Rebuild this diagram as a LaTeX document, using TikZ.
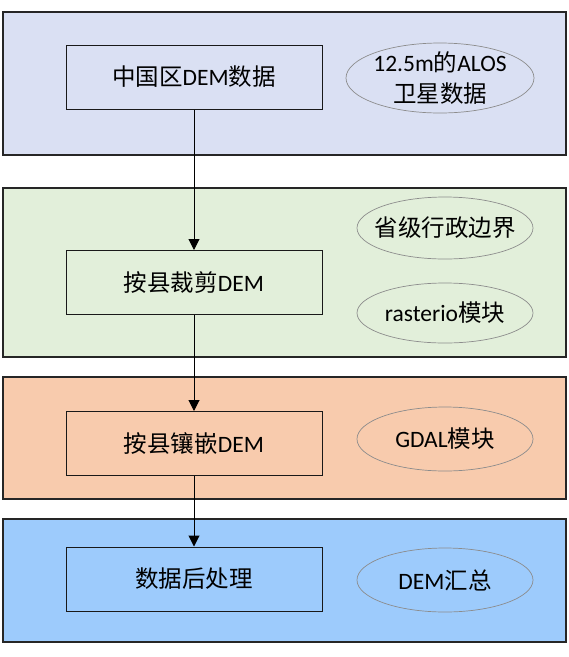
\documentclass[tikz,border=0pt]{standalone}
\usepackage{fontspec}
\setmainfont{Carlito}
\newfontfamily\cjk{Noto Sans CJK SC}
\newcommand{\zh}[1]{{\cjk #1}}
\usetikzlibrary{arrows.meta,shapes.geometric}
\definecolor{bandA}{HTML}{DAE0F3}
\definecolor{bandB}{HTML}{E2EFDA}
\definecolor{bandC}{HTML}{F8CBAD}
\definecolor{bandD}{HTML}{9DCBFC}
\definecolor{ellline}{HTML}{8C8C8C}
\begin{document}
\begin{tikzpicture}[x=1pt,y=-1pt,
  band/.style={draw=black!85,line width=1.3pt},
  procbox/.style={draw=black!90,line width=1pt,minimum width=256pt,minimum height=64pt,inner sep=0pt,font=\fontsize{23.5}{26}\selectfont},
  ell/.style={draw=ellline,line width=0.7pt,ellipse,minimum width=176pt,inner sep=0pt},
  elltext/.style={font=\fontsize{23.5}{31}\selectfont,align=center,inner sep=0pt},
  flow/.style={draw=black,line width=1pt,-{Triangle[length=11pt,width=11pt]}}]
\useasboundingbox (0,0) rectangle (569,657);
\fill[bandA] (3,12) rectangle (566,155);
\draw[band] (3,12) rectangle (566,155);
\fill[bandB] (3,188) rectangle (566,357);
\draw[band] (3,188) rectangle (566,357);
\fill[bandC] (3,377) rectangle (566,499);
\draw[band] (3,377) rectangle (566,499);
\fill[bandD] (3,519) rectangle (566,642);
\draw[band] (3,519) rectangle (566,642);

\node[procbox] (b1) at (194,77) {\zh{中国区}DEM\zh{数据}};
\node[procbox] (b2) at (194,282.5) {\zh{按县裁剪}DEM};
\node[procbox] (b3) at (194,443.5) {\zh{按县镶嵌}DEM};
\node[procbox] (b4) at (194,579) {\zh{数据后处理}};

\node[ell,minimum width=188pt,minimum height=70pt,label={[elltext]center:{12.5m\zh{的}ALOS\\\zh{卫星数据}}}] (e1) at (440,78) {};
\node[ell,minimum height=62pt,label={[elltext]center:{\zh{省级行政边界}}}] (e2) at (445,228) {};
\node[ell,minimum height=60pt,label={[elltext]center:{rasterio\zh{模块}}}] (e3) at (445,313) {};
\node[ell,minimum height=64pt,label={[elltext]center:{GDAL\zh{模块}}}] (e4) at (445,439) {};
\node[ell,minimum height=64pt,label={[elltext]center:{DEM\zh{汇总}}}] (e5) at (445,580) {};

\draw[flow] (b1) -- (b2);
\draw[flow] (b2) -- (b3);
\draw[flow] (b3) -- (b4);
\end{tikzpicture}
\end{document}
